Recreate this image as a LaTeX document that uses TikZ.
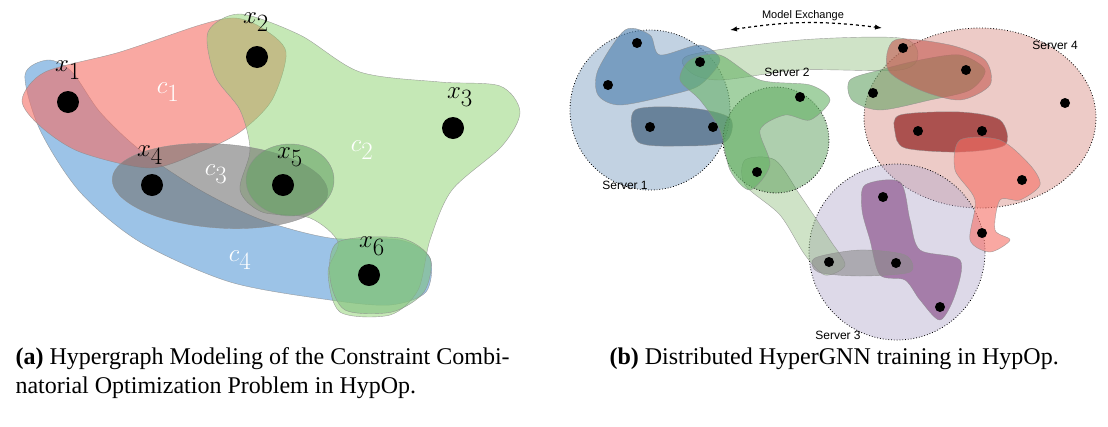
\documentclass[tikz,border=0pt]{standalone}
\usepackage{fontspec}
\setmainfont{Liberation Serif}
\newfontfamily\sansf{Liberation Sans}
\usetikzlibrary{arrows.meta}
\definecolor{hblue}{RGB}{90,155,215}
\definecolor{hred}{RGB}{245,110,100}
\definecolor{hgreen}{RGB}{140,210,110}
\definecolor{sblue}{RGB}{120,155,190}
\definecolor{sred}{RGB}{215,140,130}
\definecolor{spurple}{RGB}{180,170,205}
\tikzset{
  blob/.style={draw=black!45, fill opacity=0.6, draw opacity=0.8},
  vtx/.style={circle, fill=black, inner sep=0pt, minimum size=22pt},
  svtx/.style={circle, fill=black, inner sep=0pt, minimum size=10pt},
  lab/.style={font=\fontsize{38}{38}\selectfont},
  clab/.style={lab, text=white},
  server/.style={draw=black, dotted, thick, fill opacity=0.45},
  slab/.style={font=\sansf\fontsize{12}{12}\selectfont}
}
\begin{document}
\begin{tikzpicture}[x=1pt,y=-1pt]
    \useasboundingbox (0,0) rectangle (1108,426);
    % (a) hypergraph
    \filldraw[blob, fill=hblue] plot[smooth cycle] coordinates {(25,75) (48,60) (72,72) (100,112) (140,150) (200,190) (262,220) (330,238) (400,240) (430,258) (426,292) (390,305) (330,300) (230,282) (140,242) (80,192) (40,130)};
    \filldraw[blob, fill=hred] plot[smooth cycle] coordinates {(22,100) (45,72) (120,52) (200,25) (235,18) (262,28) (286,52) (272,100) (240,132) (200,152) (150,168) (80,152) (40,126)};
    \filldraw[blob, fill=hgreen, fill opacity=0.5] plot[smooth cycle] coordinates {(208,32) (240,14) (300,35) (360,72) (440,82) (500,86) (520,112) (502,146) (452,190) (430,240) (418,290) (390,315) (340,312) (328,272) (338,242) (310,218) (262,212) (240,190) (250,150) (240,110) (215,76)};
    \filldraw[blob, fill=black!55, rotate around={-4:(220,186)}] (220,186) ellipse (108pt and 42pt);
    \filldraw[blob, fill=green!40!black!60] (290,180) ellipse (44pt and 36pt);
    \filldraw[blob, fill=green!50!black!50] plot[smooth cycle] coordinates {(338,242) (400,238) (430,258) (424,292) (392,312) (345,310) (330,278)};
    % vertices
    \node[vtx] (x1) at (68,102) {};
    \node[vtx] (x2) at (257,57) {};
    \node[vtx] (x3) at (453,128) {};
    \node[vtx] (x4) at (152,185) {};
    \node[vtx] (x5) at (283,185) {};
    \node[vtx] (x6) at (369,275) {};
    \node[lab] at (68,70) {$x_1$};
    \node[lab] at (256,22) {$x_2$};
    \node[lab] at (460,97) {$x_3$};
    \node[lab] at (150,155) {$x_4$};
    \node[lab] at (290,157) {$x_5$};
    \node[lab] at (372,246) {$x_6$};
    \node[clab] at (168,92) {$c_1$};
    \node[clab] at (362,150) {$c_2$};
    \node[clab] at (216,174) {$c_3$};
    \node[clab] at (240,260) {$c_4$};
    % (b) servers
    \filldraw[server, fill=sblue] (650,110) circle (80pt);
    \filldraw[server, fill=sred] (980,118) ellipse (116pt and 90pt);
    \filldraw[server, fill=spurple] (897,252) circle (88pt);
    % hyperedges
    \filldraw[blob, fill=hgreen!70!gray, fill opacity=0.4] plot[smooth cycle] coordinates {(690,55) (800,40) (900,38) (918,55) (900,70) (800,70) (720,80) (690,72)};
    \filldraw[blob, fill=hgreen!70!gray, fill opacity=0.4] plot[smooth cycle] coordinates {(745,160) (775,160) (800,195) (830,240) (845,265) (825,275) (805,255) (780,215) (745,185)};
    \filldraw[blob, fill=hblue!80!black] plot[smooth cycle] coordinates {(598,70) (625,30) (650,35) (660,55) (700,45) (720,60) (700,85) (670,95) (620,105) (598,95)};
    \filldraw[blob, fill=hblue!50!black] plot[smooth cycle] coordinates {(635,110) (690,108) (730,118) (725,142) (680,146) (638,142)};
    \filldraw[server, fill=green!40!black!70] (776,140) circle (53pt);
    \filldraw[blob, fill=green!50!black!60] plot[smooth cycle] coordinates {(690,60) (720,55) (760,80) (810,85) (830,100) (810,120) (785,115) (760,130) (770,165) (750,190) (730,170) (720,130) (700,100) (680,80)};
    \filldraw[blob, fill=green!40!black!60] plot[smooth cycle] coordinates {(850,80) (880,70) (920,60) (960,55) (985,70) (970,90) (930,100) (880,110) (852,100)};
    \filldraw[blob, fill=hred!80!black] plot[smooth cycle] coordinates {(895,40) (950,45) (985,60) (990,85) (960,100) (920,90) (888,70)};
    \filldraw[blob, fill=red!50!black] plot[smooth cycle] coordinates {(900,115) (960,112) (1000,120) (1005,145) (960,152) (905,148) (895,132)};
    \filldraw[blob, fill=hred] plot[smooth cycle] coordinates {(960,140) (1000,140) (1030,165) (1040,185) (1020,200) (1000,200) (995,230) (1010,240) (990,252) (970,240) (975,200) (955,170)};
    \filldraw[blob, fill=violet!50!gray] plot[smooth cycle] coordinates {(865,185) (900,182) (910,220) (920,250) (960,260) (955,295) (940,320) (920,300) (905,280) (880,275) (870,240) (862,210)};
    \filldraw[blob, fill=black!45] plot[smooth cycle] coordinates {(815,258) (860,250) (905,255) (910,272) (860,276) (818,272)};
    % small vertices
    \foreach \n/\p in {a/{(637,43)}, b/{(608,85)}, c/{(700,62)}, d/{(650,127)}, e/{(713,127)}, f/{(800,97)}, g/{(757,172)}, h/{(903,48)}, i/{(873,93)}, j/{(966,70)}, k/{(1065,103)}, l/{(918,131)}, m/{(982,131)}, n/{(1022,180)}, o/{(982,233)}, p/{(883,197)}, q/{(829,262)}, r/{(896,263)}, s/{(940,307)}}
        \node[svtx] (v\n) at \p {};
    \node[slab] at (625,185) {Server 1};
    \node[slab] at (787,72) {Server 2};
    \node[slab] at (1055,45) {Server 4};
    \node[slab] at (838,335) {Server 3};
    \coordinate (mexl) at (730,30);
    \coordinate (mexr) at (882,28);
    \draw[{Latex[length=7pt]}-{Latex[length=7pt]}, dashed, very thick] (mexl) to[bend left=8] (mexr);
    \node[slab, font=\sansf\fontsize{11}{11}\selectfont] at (803,16) {Model Exchange};
    % captions
    \node[anchor=west, font=\fontsize{24}{29}\selectfont, align=left] at (12,373) {\textbf{(a)} Hypergraph Modeling of the Constraint Combi-\\natorial Optimization Problem in HypOp.};
    \node[anchor=west, font=\fontsize{24}{29}\selectfont] at (606,359) {\textbf{(b)} Distributed HyperGNN training in HypOp.};
\end{tikzpicture}
\end{document}
